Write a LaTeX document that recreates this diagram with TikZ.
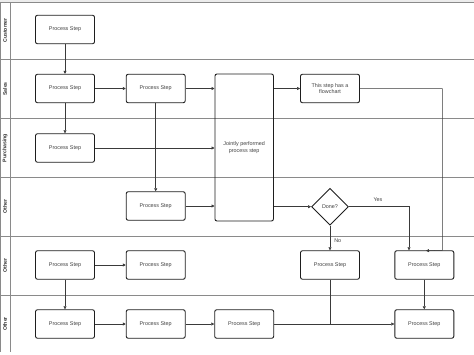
\documentclass[tikz,border=0pt]{standalone}
\usepackage{fontspec}
\setmainfont{Liberation Sans}
\usetikzlibrary{arrows.meta,shapes.geometric}
\definecolor{lanegray}{HTML}{8A8A8A}
\definecolor{boxline}{HTML}{1E1E1E}
\definecolor{conn}{HTML}{3A3A3A}
\tikzset{
  stepbox/.style={draw=boxline,line width=0.9pt,rounded corners=2pt,minimum width=59pt,minimum height=28.5pt,inner sep=1pt,font=\fontsize{5.4}{6.4}\selectfont,text=black!75,align=center},
  decbox/.style={draw=boxline,line width=0.9pt,diamond,minimum width=37pt,minimum height=37pt,inner sep=0pt,font=\fontsize{5.4}{6.4}\selectfont,text=black!75},
  lanelbl/.style={rotate=90,font=\fontsize{5.2}{6}\selectfont\bfseries,text=black!80},
  lane/.style={draw=lanegray,line width=0.8pt},
  flow/.style={draw=conn,line width=0.5pt,-{Triangle[length=3pt,width=3pt]}},
  plain/.style={draw=conn,line width=0.5pt},
  elbl/.style={font=\fontsize{5.4}{6.4}\selectfont,text=black!75}
}
\begin{document}
\begin{tikzpicture}[x=1pt,y=-1pt]
\useasboundingbox (0,0) rectangle (474,354);
\fill[white] (0,0) rectangle (474,354);
\fill[gray!15] (0,0) rectangle (474,2);
% lanes
\draw[lane] (0,2) -- (474,2);
\draw[lane] (0,59.5) -- (474,59.5);
\draw[lane] (0,118.5) -- (474,118.5);
\draw[lane] (0,177.5) -- (474,177.5);
\draw[lane] (0,236) -- (474,236);
\draw[lane] (0,295) -- (474,295);
\draw[lane] (10,2) -- (10,352);
\draw[lane] (0.4,2) -- (0.4,352);
\node[lanelbl] (l1) at (5,30.5) {Customer};
\node[lanelbl] (l2) at (5,89) {Sales};
\node[lanelbl] (l3) at (5,148) {Purchasing};
\node[lanelbl] (l4) at (5,206.5) {Other};
\node[lanelbl] (l5) at (5,265.5) {Other};
\node[lanelbl] (l6) at (5,324) {Other};
% nodes
\node[stepbox] (c1) at (65,29.5) {Process Step};
\node[stepbox] (s1) at (65,88.5) {Process Step};
\node[stepbox] (s2) at (155.7,88.5) {Process Step};
\node[stepbox,minimum height=147pt,minimum width=58.5pt] (j) at (244.2,147.5) {Jointly performed\\process step};
\node[stepbox] (fc) at (330,88.5) {This step has a\\flowchart};
\node[stepbox] (p1) at (65,148) {Process Step};
\node[stepbox] (o1) at (155.7,206) {Process Step};
\node[decbox] (d) at (330,206.7) {Done?};
\node[stepbox] (a1) at (65,265) {Process Step};
\node[stepbox] (a2) at (155.7,265) {Process Step};
\node[stepbox] (a3) at (330,265) {Process Step};
\node[stepbox] (a4) at (424.3,265) {Process Step};
\node[stepbox] (b1) at (65,324) {Process Step};
\node[stepbox] (b2) at (155.7,324) {Process Step};
\node[stepbox] (b3) at (244.2,324) {Process Step};
\node[stepbox] (b4) at (424.3,324) {Process Step};
% connectors
\draw[flow] (c1) -- (s1);
\draw[flow] (s1) -- (s2);
\draw[flow] (s1) -- (p1);
\draw[flow] (s2.east) -- (s2.east -| j.west);
\draw[flow] (s2) -- (o1);
\draw[flow] (p1.east) -- (p1.east -| j.west);
\draw[flow] (o1.east) -- (o1.east -| j.west);
\draw[flow] (fc.east -| j.east) -- (fc.west);
\coordinate (fcturn) at (442.3,88.5);
\coordinate (fcend) at (426,250.7);
\draw[flow] (fc.east) -- (fcturn) -- (fcturn |- a4.north) -- (fcend);
\draw[flow] (d.east -| j.east) -- (d.west);
\coordinate (yesx) at (409,206.7);
\draw[flow] (d.east) -- (yesx) -- (yesx |- a4.north);
\node[elbl] (yes) at (378,200) {Yes};
\draw[flow] (d.south) -- (a3.north);
\node[elbl] (no) at (337.7,241) {No};
\draw[flow] (a1) -- (a2);
\draw[flow] (a1) -- (b1);
\draw[plain] (a3.south) -- (a3.south |- b3.east);
\draw[flow] (b1) -- (b2);
\draw[flow] (b2) -- (b3);
\draw[flow] (b3) -- (b4);
\draw[flow] (a4) -- (b4);
\end{tikzpicture}
\end{document}
